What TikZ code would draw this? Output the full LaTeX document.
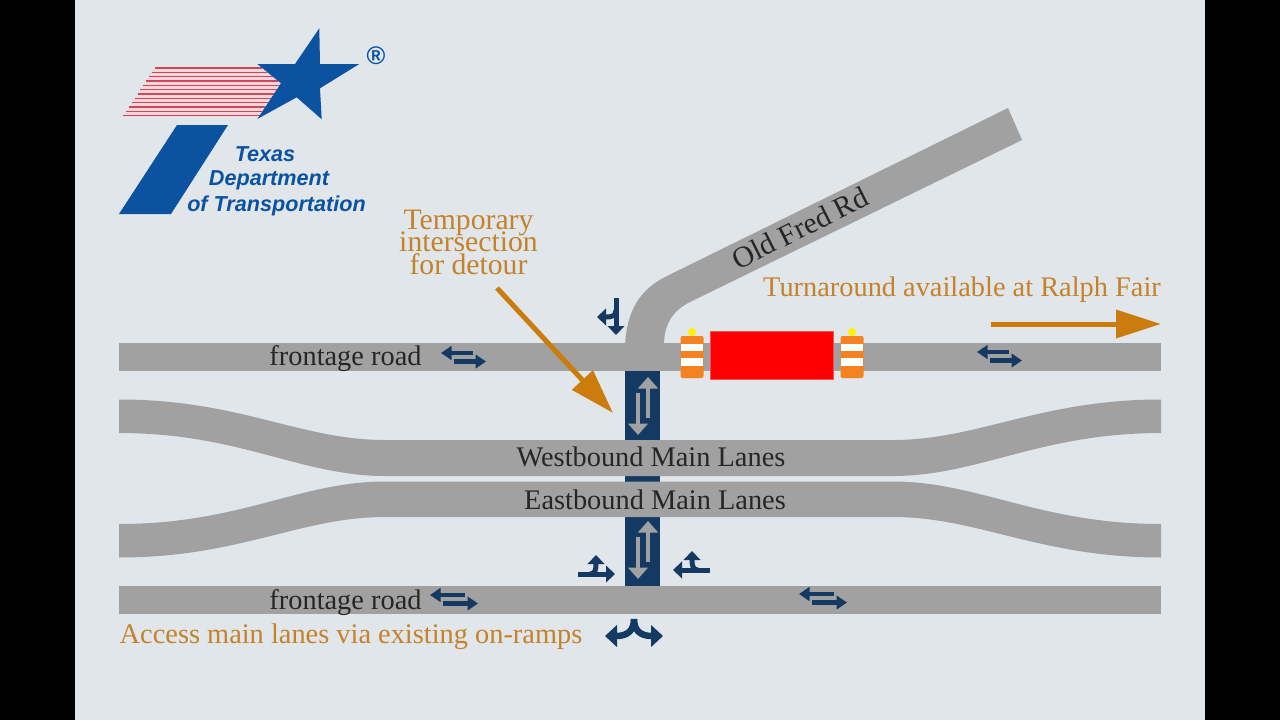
\documentclass[tikz,border=0pt]{standalone}
\usepackage{fontspec}
\setmainfont{Liberation Serif}
\newfontfamily\logofont{Liberation Sans}
\usepackage{xcolor}
\usetikzlibrary{arrows.meta}
\definecolor{panelbg}{HTML}{E1E6EA}
\definecolor{roadgray}{HTML}{A1A1A1}
\definecolor{navyblue}{HTML}{143A63}
\definecolor{logoblue}{HTML}{0B52A0}
\definecolor{noteorange}{HTML}{C4822A}
\definecolor{arroworange}{HTML}{CC7C0C}
\definecolor{barrelorange}{HTML}{F58220}
\definecolor{streakred}{HTML}{C84A58}
\definecolor{streakpink}{HTML}{F2D6DC}

\begin{document}
\begin{tikzpicture}[x=0.02cm, y=-0.02cm,
  road/.style={fill=roadgray, draw=none},
  roadtext/.style={font=\fontsize{16.15}{18}\selectfont, text=black!85, inner sep=0pt},
  notetext/.style={font=\fontsize{16.15}{18}\selectfont, text=noteorange, inner sep=0pt},
  detourtext/.style={font=\fontsize{16.9}{18}\selectfont, text=noteorange, inner sep=0pt, anchor=base},
  logotext/.style={font=\logofont\fontsize{12.3}{14}\selectfont\bfseries\itshape, text=logoblue, inner sep=0pt},
  lanearrow/.style={-{Triangle[length=0.21cm, width=0.27cm]}, line width=0.085cm, navyblue},
  turnarrow/.style={-{Triangle[length=0.18cm, width=0.33cm]}, line width=0.1cm, navyblue},
  forkarrow/.style={-{Triangle[length=0.24cm, width=0.43cm]}, line width=0.13cm, navyblue},
  grayarrow/.style={-{Triangle[length=0.23cm, width=0.39cm]}, line width=0.095cm, roadgray},
  notearrow/.style={-{Triangle[length=0.9cm, width=0.55cm]}, line width=0.1cm, arroworange},
  barrel/.style={fill=barrelorange, rounded corners=0.04cm},
  barrelband/.style={fill=white}
]
  \fill[black] (0,0) rectangle (1280,720);
  \fill[panelbg] (75,0) rectangle (1205,720);
  % Logo
  \fill[streakpink] (155,67) -- (262,67) -- (281,83) -- (258,117) -- (123,117) -- cycle;
  \foreach \y in {68,72.3,76.7,81,85.4,89.7,94,98.4,102.7,107,111.4,115.7} {
    \pgfmathsetmacro{\xl}{155-(\y-68)*0.67}
    \pgfmathsetmacro{\xr}{\y<83.3 ? 257.3+(\y-64)*1.22 : 281-(\y-83.3)*0.66}
    \draw[streakred, line width=0.022cm] (\xl,\y) -- (\xr,\y);
  }
  \fill[logoblue] (319.3,28.3) -- (320,64) -- (359.3,64) -- (320,88.3) -- (321.7,119.3) -- (296.7,97.3)
    -- (257.3,119) -- (281,83.3) -- (257.3,64) -- (295,64) -- cycle;
  \fill[logoblue] (177,125) -- (228,125) -- (171,214) -- (119,214) -- cycle;
  \node[logotext] (texas) at (265,154) {Texas};
  \node[logotext] (department) at (269,180.5) {Department};
  \node[logotext] (transportation) at (276.5,206) {of Transportation};
  \node[font=\logofont\fontsize{14.5}{16}\selectfont\bfseries, text=logoblue, inner sep=0pt] (regmark) at (376,56) {®};
  % Crossing road
  \fill[navyblue] (625,371) rectangle (660,586);
  % Roads
  \fill[road] (119,343) rectangle (1161,371);
  \fill[road] (119,586) rectangle (1161,614);
  \fill[road] (625,345) .. controls (627,310) and (640,290) .. (665,277) -- (1008,108) -- (1022,140)
    -- (690,302) .. controls (672,311) and (664,325) .. (664,345) -- cycle;
  \fill[road] (119,399.5) .. controls (240,399.5) and (300,440) .. (385,440) -- (893,440)
    .. controls (978,440) and (1040,399.5) .. (1161,399.5) -- (1161,433)
    .. controls (1040,433) and (978,476) .. (893,476) -- (385,476)
    .. controls (300,476) and (240,433) .. (119,433) -- cycle;
  \fill[road] (119,524) .. controls (240,524) and (300,481.5) .. (385,481.5) -- (893,481.5)
    .. controls (978,481.5) and (1040,524) .. (1161,524) -- (1161,557.5)
    .. controls (1040,557.5) and (978,517) .. (893,517) -- (385,517)
    .. controls (300,517) and (240,557.5) .. (119,557.5) -- cycle;
  % Closed section
  \fill[red, draw=red!70!white, line width=0.02cm] (710,331) rectangle (833,379);
  \foreach \x in {692,852} {
    \fill[yellow] (\x,332) circle (4);
    \fill[barrel] (\x-11.5,336) rectangle (\x+11.5,378);
    \fill[barrelband] (\x-11,344) rectangle (\x+11,351);
    \fill[barrelband] (\x-11,358) rectangle (\x+11,366);
  }
  % Lane arrows on the crossing road
  \foreach \d in {0,144} {
    \draw[grayarrow] (648,418+\d) -- (648,377+\d);
    \draw[grayarrow] (638,393+\d) -- (638,435+\d);
  }
  % Two way arrows
  \foreach \x/\y/\w in {441/353/32, 977/352/32, 430/595/35, 799/594/35} {
    \draw[lanearrow] (\x+\w,\y) -- (\x,\y);
    \draw[lanearrow] (\x+13,\y+8.5) -- (\x+\w+13,\y+8.5);
  }
  % Turn arrows
  \draw[turnarrow] (616,298) -- (616,335);
  \draw[turnarrow] (616,310) .. controls (616,316) and (612,317) .. (597,317);
  \draw[turnarrow] (578,574) -- (615,574);
  \draw[turnarrow] (590,574) .. controls (595,574) and (596,570) .. (596,555);
  \draw[turnarrow] (710,570) -- (673,570);
  \draw[turnarrow] (698,570) .. controls (693,570) and (692,566) .. (692,551);
  \draw[forkarrow] (634,619) .. controls (634,630) and (628,636) .. (605,636);
  \draw[forkarrow] (634,619) .. controls (634,630) and (640,636) .. (663,636);
  % Labels
  \node[roadtext] (frontagetop) at (345.5,358.5) {frontage road};
  \node[roadtext] (frontagebot) at (345.5,603) {frontage road};
  \node[roadtext] (westbound) at (651,457) {Westbound Main Lanes};
  \node[roadtext] (eastbound) at (655,500) {Eastbound Main Lanes};
  \node[font=\fontsize{16.9}{18}\selectfont, text=black!85, inner sep=0pt, rotate=26.5] (oldfred) at (800,228) {Old Fred Rd};
  \node[detourtext] (detourone) at (468.5,229) {Temporary};
  \node[detourtext] (detourtwo) at (468.5,251) {intersection};
  \node[detourtext] (detourthree) at (468.5,274) {for detour};
  \node[notetext] (turnaround) at (962,290) {Turnaround available at Ralph Fair};
  \node[notetext] (accessnote) at (351,637) {Access main lanes via existing on-ramps};
  % Note arrows
  \coordinate (detourtail) at (497,288);
  \coordinate (detourtip) at (613,413);
  \coordinate (fairtail) at (991,324);
  \coordinate (fairtip) at (1161,324);
  \draw[notearrow] (detourtail) -- (detourtip);
  \draw[notearrow] (fairtail) -- (fairtip);
\end{tikzpicture}
\end{document}
